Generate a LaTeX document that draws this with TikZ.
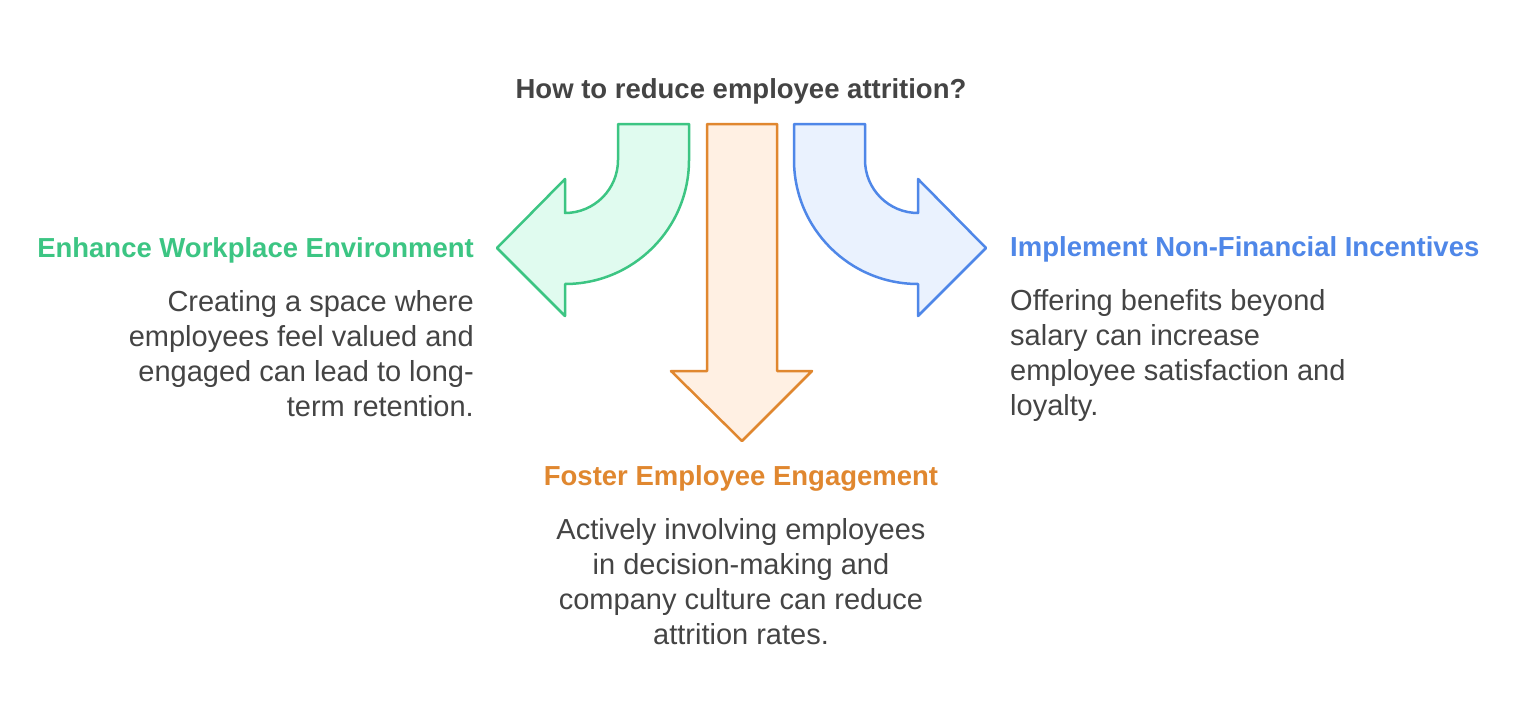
\documentclass[tikz,border=0pt]{standalone}
\usepackage{fontspec}
\setmainfont{Liberation Sans}
\definecolor{txtgray}{HTML}{444444}
\definecolor{gline}{HTML}{3CC583}
\definecolor{gfill}{HTML}{E0FBEF}
\definecolor{oline}{HTML}{E0872F}
\definecolor{ofill}{HTML}{FFF0E3}
\definecolor{bline}{HTML}{4F87E8}
\definecolor{bfill}{HTML}{EAF2FE}
\begin{document}
\begin{tikzpicture}[x=1pt,y=-1pt,
  arrowshape/.style={line width=2.5pt,line join=round},
  headtxt/.style={font=\fontsize{27.5}{32}\selectfont\bfseries,inner sep=0pt},
  bodytxt/.style={font=\fontsize{29}{35}\selectfont,text=txtgray,inner sep=0pt},
  titletxt/.style={font=\fontsize{27.5}{32}\selectfont\bfseries,text=txtgray,inner sep=0pt}]
\useasboundingbox[fill=white] (0,0) rectangle (1536,725);
% green arrow
\draw[arrowshape,draw=gline,fill=gfill] (618,124) -- (689,124) -- (689,160)
  arc[start angle=0,end angle=90,radius=124] -- (565,316) -- (497,248) -- (565,179) -- (565,213)
  arc[start angle=90,end angle=0,radius=53] -- cycle;
% orange arrow
\draw[arrowshape,draw=oline,fill=ofill] (707,124) -- (777,124) -- (777,371) -- (812,371)
  -- (742,441) -- (671,371) -- (707,371) -- cycle;
% blue arrow
\draw[arrowshape,draw=bline,fill=bfill] (865,124) -- (794,124) -- (794,160)
  arc[start angle=180,end angle=90,radius=124] -- (918,316) -- (986,248) -- (918,179) -- (918,213)
  arc[start angle=90,end angle=180,radius=53] -- cycle;
% texts
\node[titletxt,anchor=base] (title) at (741,99) {How to reduce employee attrition?};
\node[headtxt,text=gline,anchor=base east] (gh) at (474,257) {Enhance Workplace Environment};
\node[bodytxt,anchor=north east,align=right] (gb) at (474,290) {Creating a space where\\employees feel valued and\\engaged can lead to long-\\term retention.};
\node[headtxt,text=bline,anchor=base west] (bh) at (1010,256) {Implement Non-Financial Incentives};
\node[bodytxt,anchor=north west,align=left] (bb) at (1010,289) {Offering benefits beyond\\salary can increase\\employee satisfaction and\\loyalty.};
\node[headtxt,text=oline,anchor=base] (oh) at (741,485) {Foster Employee Engagement};
\node[bodytxt,anchor=north,align=center] (ob) at (741,518) {Actively involving employees\\in decision-making and\\company culture can reduce\\attrition rates.};
\end{tikzpicture}
\end{document}
